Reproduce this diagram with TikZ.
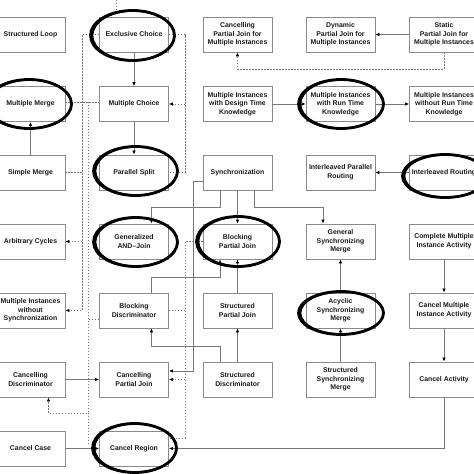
\documentclass[tikz,border=0pt]{standalone}
\usepackage{fontspec}
\setmainfont{Liberation Sans}
\usetikzlibrary{arrows.meta}
\definecolor{boxgray}{HTML}{8A8A8A}
\definecolor{linegray}{HTML}{777777}
\definecolor{txt}{HTML}{1A1A1A}
\newcommand\myring[4]{%
  \draw[ring] (#1,#2) ellipse [x radius={#3*1pt}, y radius={#4*1pt}];
  \draw[ring, line width=2pt] ({#1+0.9},#2) ellipse [x radius={(#3-0.9)*1pt}, y radius={(#4-0.2)*1pt}];}
\begin{document}
\begin{tikzpicture}[x=1pt,y=-1pt,
  box/.style={draw=boxgray, line width=0.9pt, fill=white, minimum width=69pt,
    minimum height=35pt, inner sep=0pt, align=center,
    font=\fontsize{6.9}{8.7}\selectfont\bfseries, text=txt},
  ring/.style={line width=2.8pt, draw=black},
  conn/.style={draw=linegray, line width=0.8pt},
  arr/.style={conn, -{Latex[length=4pt,width=3.6pt,color=black]}},
  dot/.style={draw=linegray, line width=0.7pt, dash pattern=on 1.3pt off 1.7pt},
  darr/.style={dot, -{Latex[length=4pt,width=3.6pt,color=black]}}]
\useasboundingbox (0,0) rectangle (474,474);
% row 1
\node[box] (sl) at (30.5,34.5) {Structured Loop};
\node[box] (ec) at (134,34.5) {Exclusive Choice};
\node[box] (cpjmi) at (237.5,34.5) {Cancelling\\Partial Join for\\Multiple Instances};
\node[box] (dpjmi) at (340.5,34.5) {Dynamic\\Partial Join for\\Multiple Instances};
\node[box] (spjmi) at (444,34.5) {Static\\Partial Join for\\Multiple Instances};
% row 2
\node[box] (mm) at (30.5,104) {Multiple Merge};
\node[box] (mc) at (134,104) {Multiple Choice};
\node[box] (midt) at (237.5,104) {Multiple Instances\\with Design Time\\Knowledge};
\node[box] (mirt) at (340.5,104) {Multiple Instances\\with Run Time\\Knowledge};
\node[box] (minrt) at (444,104) {Multiple Instances\\without Run Time\\Knowledge};
% row 3
\node[box] (sm) at (30.5,172.5) {Simple Merge};
\node[box] (ps) at (134,172.5) {Parallel Split};
\node[box] (sync) at (237.5,172.5) {Synchronization};
\node[box] (ipr) at (340.5,172.5) {Interleaved Parallel\\Routing};
\node[box] (ir) at (444,172.5) {Interleaved Routing};
% row 4
\node[box] (ac) at (30.5,241.5) {Arbitrary Cycles};
\node[box] (gaj) at (134,241.5) {Generalized\\AND--Join};
\node[box] (bpj) at (237.5,241.5) {Blocking\\Partial Join};
\node[box] (gsm) at (340.5,241.5) {General\\Synchronizing\\Merge};
\node[box] (cmia) at (444,241.5) {Complete Multiple\\Instance Activity};
% row 5
\node[box] (miws) at (30.5,310.5) {Multiple Instances\\without\\Synchronization};
\node[box] (bd) at (134,310.5) {Blocking\\Discriminator};
\node[box] (spj) at (237.5,310.5) {Structured\\Partial Join};
\node[box] (asm) at (340.5,310.5) {Acyclic\\Synchronizing\\Merge};
\node[box] (cmi) at (444,310.5) {Cancel Multiple\\Instance Activity};
% row 6
\node[box] (cd) at (30.5,379.5) {Cancelling\\Discriminator};
\node[box] (cpj) at (134,379.5) {Cancelling\\Partial Join};
\node[box] (sd) at (237.5,379.5) {Structured\\Discriminator};
\node[box] (ssm) at (340.5,379.5) {Structured\\Synchronizing\\Merge};
\node[box] (ca) at (444,379.5) {Cancel Activity};
% row 7
\node[box] (cc) at (30.5,448.5) {Cancel Case};
\node[box] (cr) at (134,448.5) {Cancel Region};
% helper coordinates
\coordinate (T0) at (116,0);
\coordinate (T1) at (116,10);
\coordinate (L1) at (82,0);
\coordinate (L2) at (88,0);
\coordinate (R1) at (185,0);
\coordinate (R2) at (193,0);
\coordinate (H0) at (0,69);
\coordinate (H1) at (0,207);
\coordinate (H2) at (0,277);
\coordinate (H3) at (0,346);
\coordinate (B1) at (0,413);
\coordinate (H4) at (0,445);
\coordinate (cpjS) at ([yshift=8.5pt]cpj.east);
\coordinate (syncW) at ([yshift=-8.5pt]sync.west);
\coordinate (mcW) at ([yshift=2pt]mc.west);
\coordinate (mmE) at ([yshift=2pt]mm.east);
\coordinate (crE) at ([yshift=10.5pt]cr.east);
\coordinate (bdW) at ([yshift=-8.5pt]bd.west);
\coordinate (cdS) at ([xshift=18pt]cd.south);
\coordinate (syncA) at ([xshift=17pt]sync.south);
\coordinate (syncB) at ([xshift=-17.5pt]sync.south);
\coordinate (gsmN) at ([xshift=-17.5pt]gsm.north);
\coordinate (gajN) at ([xshift=17.5pt]gaj.north);
\coordinate (bdN) at ([xshift=17.5pt]bd.north);
\coordinate (bdS) at ([xshift=17.5pt]bd.south);
\coordinate (bpjS) at ([xshift=-17.5pt]bpj.south);
\coordinate (sdN) at ([xshift=-17.5pt]sd.north);
% solid connectors
\draw[arr] (ec) -- (mc);
\draw[arr] (mc) -- (ps);
\draw[arr] (sm) -- (mm);
\draw[arr] (midt) -- (mirt);
\draw[arr] (mirt) -- (minrt);
\draw[arr] (spjmi) -- (dpjmi);
\draw[arr] (ir) -- (ipr);
\draw[arr] (sync) -- (bpj);
\draw[arr] (syncA) -- (syncA |- H1) -| (gsmN);
\draw[arr] (syncB) -- (syncB |- H1) -| (gajN);
\draw[arr] (syncW) -| (R2 |- cpjS) -- (cpjS);
\draw[arr] (bdN) -- (bdN |- H2) -| (bpjS);
\draw[arr] (spj) -- (bpj);
\draw[arr] (sd) -- (spj);
\draw[arr] (sdN) -- (sdN |- H3) -| (bdS);
\draw[arr] (cd) -- (cpj);
\draw[arr] (cc) -- (cr);
\draw[arr] (ca.south) |- (cr.east);
\draw[arr] (cmia) -- (cmi);
\draw[arr] (cmi) -- (ca);
\draw[arr] (asm) -- (gsm);
\draw[arr] (ssm) -- (asm);
% dashed connectors
\draw[dot] (T0) -- (T1);
\draw[darr] (spjmi.south) -- (spjmi.south |- H0) -| (cpjmi.south);
\draw[darr] (ec.west) -| (L1 |- miws.east) -- (miws.east);
\draw[dot] (sm.east) -- (sm.east -| L1);
\draw[darr] (ac.east -| L1) -- (ac.east);
\draw[dot] (mmE) -- (mcW);
\draw[darr] (L2 |- mcW) -- (L2 |- B1) -| (cdS);
\draw[dot] (L2 |- B1) -- (L2 |- H4);
\draw[dot] (bdW) -- (bdW -| L2);
\draw[dot] (ec.east) -| (R1 |- ps.east) -- (ps.east);
\draw[darr] (mc.east -| R1) -- (mc.east);
\draw[dot] (bpj.west) -| (R1 |- crE) -- (crE);
\draw[dot] (bd.east) -- (bd.east -| R1);
\draw[darr] (cpj.east -| R1) -- (cpj.east);
% highlight rings
\myring{132.5}{35.5}{42}{25}
\myring{29}{104}{42.5}{24.5}
\myring{135.5}{171}{42}{24.5}
\myring{135.5}{242}{42}{24.5}
\myring{238}{241.5}{41.5}{25}
\myring{341}{104}{42.5}{24.5}
\myring{445}{176}{42.5}{21.5}
\myring{341}{313}{42.5}{21.5}
\myring{134.5}{448}{42}{24.5}
\end{tikzpicture}
\end{document}
